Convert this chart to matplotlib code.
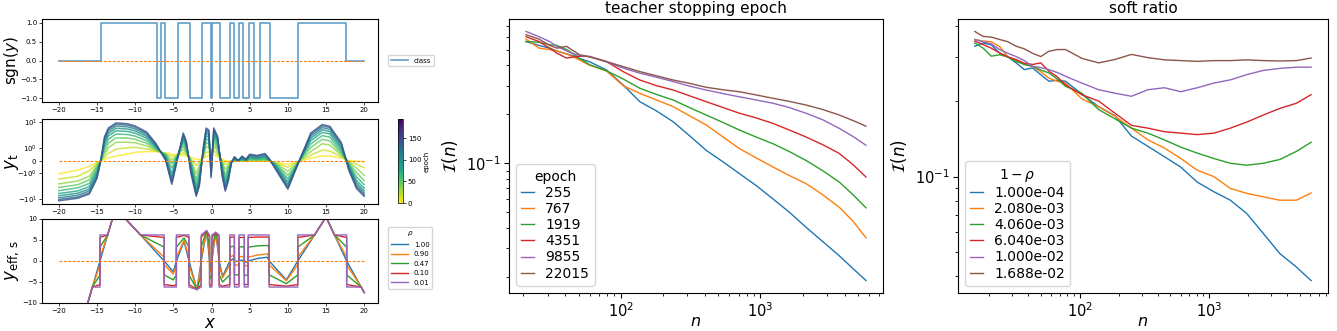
import numpy as np
import matplotlib
matplotlib.use('Agg')
import matplotlib.pyplot as plt
from matplotlib import colors, cm

# ---- top left: class sign of the teacher ----
sgn_edges = [-20, -14.5, -7.16, -6.64, -6.07, -4.45, -2.84, -1.27, -0.13, 0.1, 1.09,
             2.4, 2.97, 3.62, 4.15, 4.85, 5.59, 6.29, 7.64, 11.27, 17.6, 20]
sgn_vals = [0, 1, -1, 1, -1, 1, -1, 1, -1, 1, -1, 1, -1, 1, -1, 1, -1, 1, -1, 1, 0, 0]
zero_x = [-20, 20]
zero_y = [0, 0]

# ---- middle left: teacher output y_t over training epochs ----
yt_x = [-20, -17.5, -16, -15, -14.5, -14, -13.5, -12.5, -11, -10, -8.5, -7.3, -6.0, -5.2,
        -4.6, -3.7, -3.3, -2.7, -2.0, -1.6, -1.1, -0.7, -0.35, -0.05, 0.3, 0.8, 1.4, 1.8,
        2.2, 2.6, 3.0, 3.5, 4.0, 4.5, 5.0, 6.0, 7.0, 7.5, 8.5, 10.0, 11.5, 13.0, 14.5,
        15.5, 17.0, 18.0, 19.0, 20.0]
yt_epochs = [0, 16, 32, 48, 64, 80, 96, 112, 128, 144]
yt_curves = [
    [-1.05, -0.75, -0.45, -0.15, 0.0, 0.1, 0.2, 0.35, 0.5, 0.65, 0.7, 0.7, 0.6, 0.5, 0.45, 0.4,
     0.35, 0.25, 0.1, 0.1, 0.2, 0.3, 0.4, 0.5, 0.45, 0.3, 0.1, 0.0, -0.05, -0.05, -0.05, -0.05,
     -0.05, -0.05, -0.05, -0.05, -0.05, -0.05, -0.15, -0.3, -0.05, 0.2, 0.35, 0.35, 0.2, 0.0,
     -0.05, -0.1],
    [-1.7, -1.3, -0.8, -0.24, 0, 0.26, 0.55, 0.9, 1.0, 1.04, 0.91, 0.75, 0.56, 0.31, 0.4, 0.6,
     0.44, 0.17, -0.39, -0.1, 0.24, 0.64, 0.68, 0.38, 0.78, 0.45, 0.02, -0.3, -0.17, -0.06,
     -0.03, -0.05, -0.03, -0.04, -0.02, -0.02, -0.01, -0.03, -0.19, -0.53, -0.05, 0.42, 0.82,
     0.75, 0.28, -0.05, -0.29, -0.57],
    [-2.6, -2.0, -1.3, -0.35, 0, 0.48, 1.01, 1.63, 1.66, 1.57, 1.19, 0.81, 0.52, 0.05, 0.34,
     0.88, 0.55, 0.07, -1.03, -0.36, 0.3, 1.1, 1.04, 0.22, 1.23, 0.65, -0.1, -0.7, -0.32, -0.07,
     0.0, -0.04, 0.01, -0.03, 0.03, 0.01, 0.03, -0.02, -0.24, -0.85, -0.04, 0.7, 1.45, 1.28,
     0.4, -0.11, -0.6, -1.21],
    [-3.6, -2.8, -1.8, -0.48, 0, 0.72, 1.53, 2.45, 2.41, 2.16, 1.51, 0.88, 0.46, -0.24, 0.28,
     1.18, 0.68, -0.04, -1.76, -0.66, 0.36, 1.61, 1.46, 0.04, 1.73, 0.88, -0.22, -1.15, -0.5,
     -0.08, 0.03, -0.04, 0.04, -0.02, 0.08, 0.05, 0.09, 0.01, -0.3, -1.2, -0.04, 1.03, 2.16,
     1.88, 0.52, -0.18, -0.96, -1.92],
    [-4.8, -3.7, -2.5, -0.64, 0, 1.02, 2.17, 3.46, 3.32, 2.88, 1.89, 0.97, 0.4, -0.59, 0.19,
     1.56, 0.84, -0.18, -2.65, -1.02, 0.44, 2.24, 1.96, -0.18, 2.34, 1.15, -0.38, -1.7, -0.71,
     -0.1, 0.07, -0.03, 0.09, 0.0, 0.14, 0.1, 0.15, 0.04, -0.37, -1.63, -0.03, 1.42, 3.02,
     2.61, 0.68, -0.27, -1.39, -2.79],
    [-6.2, -4.9, -3.3, -0.83, 0, 1.37, 2.93, 4.65, 4.4, 3.73, 2.35, 1.08, 0.32, -1.0, 0.1, 2.0,
     1.03, -0.34, -3.71, -1.45, 0.53, 2.98, 2.56, -0.44, 3.06, 1.48, -0.56, -2.35, -0.97, -0.12,
     0.11, -0.03, 0.14, 0.02, 0.21, 0.16, 0.23, 0.07, -0.46, -2.13, -0.03, 1.89, 4.04, 3.48,
     0.86, -0.38, -1.91, -3.81],
    [-7.6, -6.0, -4.1, -1.02, 0, 1.72, 3.68, 5.84, 5.48, 4.58, 2.8, 1.18, 0.24, -1.42, 0.0,
     2.44, 1.22, -0.5, -4.76, -1.88, 0.62, 3.72, 3.16, -0.7, 3.78, 1.8, -0.74, -3.0, -1.22,
     -0.14, 0.16, -0.02, 0.19, 0.04, 0.28, 0.22, 0.31, 0.1, -0.54, -2.64, -0.02, 2.36, 5.06,
     4.34, 1.04, -0.48, -2.42, -4.84],
    [-9.2, -7.2, -4.9, -1.22, 0, 2.1, 4.49, 7.12, 6.64, 5.5, 3.29, 1.29, 0.16, -1.87, -0.11,
     2.92, 1.42, -0.68, -5.89, -2.34, 0.72, 4.52, 3.8, -0.98, 4.56, 2.15, -0.94, -3.7, -1.49,
     -0.16, 0.21, -0.01, 0.25, 0.06, 0.36, 0.28, 0.39, 0.14, -0.63, -3.19, -0.01, 2.86, 6.16,
     5.27, 1.24, -0.59, -2.97, -5.95],
    [-10.7, -8.5, -5.8, -1.43, 0, 2.48, 5.3, 8.4, 7.8, 6.41, 3.78, 1.4, 0.07, -2.32, -0.21,
     3.39, 1.63, -0.85, -7.03, -2.8, 0.82, 5.32, 4.45, -1.26, 5.33, 2.5, -1.13, -4.4, -1.77,
     -0.18, 0.26, -0.01, 0.3, 0.08, 0.43, 0.35, 0.48, 0.17, -0.72, -3.73, -0.01, 3.37, 7.26,
     6.2, 1.43, -0.7, -3.53, -7.05],
    [-12.0, -9.5, -6.5, -1.6, 0.0, 2.8, 6.0, 9.5, 8.8, 7.2, 4.2, 1.5, 0.0, -2.7, -0.3, 3.8,
     1.8, -1.0, -8.0, -3.2, 0.9, 6.0, 5.0, -1.5, 6.0, 2.8, -1.3, -5.0, -2.0, -0.2, 0.3, 0.0,
     0.35, 0.1, 0.5, 0.4, 0.55, 0.2, -0.8, -4.2, 0.0, 3.8, 8.2, 7.0, 1.6, -0.8, -4.0, -8.0],
]

# ---- bottom left: effective soft targets ----
eff_x = [-17, -15.6, -14.6, -14.6, -13.6, -12.5, -11.5, -9.3, -6.2, -6.2, -5.0, -4.6, -4.6,
         -3.6, -2.95, -2.95, -1.9, -1.35, -1.35, -0.65, -0.25, -0.25, -0.1, 0.05, 0.05, 0.55,
         1.0, 1.0, 1.45, 2.4, 2.4, 2.8, 3.0, 3.0, 3.3, 3.6, 3.6, 3.9, 4.3, 4.3, 4.55, 4.8, 4.8,
         6.0, 7.3, 7.55, 7.55, 9.8, 11.3, 11.3, 13.5, 15.0, 16.1, 17.7, 17.7, 19.6, 20.0]
eff_rho = ['1.00', '0.90', '0.47', '0.10', '0.01']
eff_100 = [-15, -6.2, 0, 0, 6.2, 13, 10.5, 6.2, 0, 0, -2.6, 0, 0, 4.7, 0, 0, -6.8, 0, 0, 7.2,
           0, 0, -2.0, 0, 0, 6.8, 0, 0, -3.7, 0, 0, 0.5, 0, 0, -0.1, 0, 0, 0.2, 0, 0, -0.3, 0,
           0, 0.6, 0.9, 0, 0, -4.5, 0, 0, 6.2, 10.5, 6.2, 0, 0, -6.2, -7.5]
eff_090 = [-15, -6.2, -0.9, 0.9, 6.2, 13, 10.5, 6.2, 0.9, -0.9, -3.1, -0.9, 0.9, 4.9, 0.9,
           -0.9, -6.8, -0.9, 0.9, 7.2, 0.9, -0.9, -2.6, -0.9, 0.9, 6.8, 0.9, -0.9, -4.0, -0.9,
           0.9, 1.3, 0.9, -0.9, -1.0, -0.9, 0.9, 1.1, 0.9, -0.9, -1.2, -0.9, 0.9, 1.4, 1.7, 0.9,
           -0.9, -4.7, -0.9, 0.9, 6.2, 10.5, 6.2, 0.9, -0.9, -6.2, -7.5]
eff_047 = [-15, -6.2, -3.3, 3.3, 6.2, 13, 10.5, 6.2, 3.3, -3.3, -4.5, -3.3, 3.3, 5.5, 3.3,
           -3.3, -6.8, -3.3, 3.3, 7.2, 3.3, -3.3, -4.2, -3.3, 3.3, 6.8, 3.3, -3.3, -5.0, -3.3,
           3.3, 3.5, 3.3, -3.3, -3.3, -3.3, 3.3, 3.4, 3.3, -3.3, -3.4, -3.3, 3.3, 3.6, 3.7, 3.3,
           -3.3, -5.4, -3.3, 3.3, 6.2, 10.5, 6.2, 3.3, -3.3, -6.2, -7.5]
eff_010 = [-15, -6.2, -5.6, 5.6, 6.2, 13, 10.5, 6.2, 5.6, -5.6, -5.9, -5.6, 5.6, 6.1, 5.6,
           -5.6, -6.8, -5.6, 5.6, 7.2, 5.6, -5.6, -5.8, -5.6, 5.6, 6.8, 5.6, -5.6, -6.0, -5.6,
           5.6, 5.7, 5.6, -5.6, -5.6, -5.6, 5.6, 5.6, 5.6, -5.6, -5.6, -5.6, 5.6, 5.7, 5.7, 5.6,
           -5.6, -6.0, -5.6, 5.6, 6.2, 10.5, 6.2, 5.6, -5.6, -6.2, -7.5]
eff_001 = [-15, -6.2, -6.2, 6.2, 6.2, 13, 10.5, 6.2, 6.2, -6.2, -6.2, -6.2, 6.2, 6.2, 6.2,
           -6.2, -6.8, -6.2, 6.2, 7.2, 6.2, -6.2, -6.2, -6.2, 6.2, 6.8, 6.2, -6.2, -6.2, -6.2,
           6.2, 6.2, 6.2, -6.2, -6.2, -6.2, 6.2, 6.2, 6.2, -6.2, -6.2, -6.2, 6.2, 6.2, 6.2, 6.2,
           -6.2, -6.2, -6.2, 6.2, 6.2, 10.5, 6.2, 6.2, -6.2, -6.2, -7.5]

# ---- centre: teacher stopping epoch ----
n_epoch = [21, 26, 31, 35, 41, 46, 51, 60, 79, 104, 137, 180, 237, 310, 409, 540, 708, 930,
           1225, 1610, 2120, 2790, 3660, 4600, 5690]
epoch_labels = ['255', '767', '1919', '4351', '9855', '22015']
I_255 = [0.56, 0.53, 0.51, 0.49, 0.47, 0.457, 0.44, 0.42, 0.375, 0.303, 0.239, 0.21, 0.18,
         0.148, 0.12, 0.102, 0.0863, 0.073, 0.0605, 0.05, 0.0404, 0.033, 0.027, 0.0225, 0.019]
I_767 = [0.58, 0.51, 0.50, 0.49, 0.47, 0.45, 0.43, 0.40, 0.37, 0.30, 0.269, 0.245, 0.223,
         0.196, 0.172, 0.145, 0.123, 0.108, 0.095, 0.084, 0.075, 0.064, 0.0537, 0.044, 0.0348]
I_1919 = [0.56, 0.555, 0.535, 0.53, 0.5, 0.47, 0.44, 0.403, 0.37, 0.33, 0.289, 0.265, 0.245,
          0.22, 0.198, 0.178, 0.16, 0.145, 0.132, 0.118, 0.104, 0.09, 0.0767, 0.064, 0.0532]
I_4351 = [0.6, 0.56, 0.51, 0.475, 0.443, 0.45, 0.455, 0.453, 0.422, 0.366, 0.325, 0.3, 0.282,
          0.26, 0.239, 0.22, 0.203, 0.19, 0.176, 0.16, 0.145, 0.13, 0.115, 0.098, 0.0823]
I_9855 = [0.646, 0.6, 0.56, 0.523, 0.49, 0.47, 0.46, 0.453, 0.42, 0.385, 0.358, 0.338, 0.318,
          0.298, 0.282, 0.268, 0.256, 0.245, 0.234, 0.22, 0.203, 0.185, 0.164, 0.146, 0.129]
I_22015 = [0.617, 0.58, 0.53, 0.51, 0.523, 0.49, 0.464, 0.45, 0.422, 0.393, 0.366, 0.345,
           0.325, 0.31, 0.293, 0.283, 0.275, 0.263, 0.251, 0.24, 0.228, 0.214, 0.198, 0.183,
           0.169]

# ---- right: soft ratio ----
n_soft = [15.5, 18, 20.8, 24.1, 27.9, 32.3, 37.4, 43.3, 50.1, 57.9, 67.1, 77.8, 104, 140, 187,
          251, 336, 451, 604, 809, 1086, 1455, 1950, 2615, 3506, 4700, 6110]
soft_labels = ['1.000e-04', '2.080e-03', '4.060e-03', '6.040e-03', '1.000e-02', '1.688e-02']
S_1 = [0.331, 0.341, 0.335, 0.311, 0.3, 0.284, 0.267, 0.271, 0.255, 0.24, 0.242, 0.24, 0.213,
       0.19, 0.175, 0.145, 0.132, 0.12, 0.109, 0.095, 0.087, 0.0805, 0.0712, 0.0593, 0.0493,
       0.0436, 0.0385]
S_2 = [0.352, 0.347, 0.345, 0.33, 0.3, 0.29, 0.28, 0.275, 0.262, 0.247, 0.24, 0.236, 0.204,
       0.19, 0.174, 0.156, 0.14, 0.13, 0.118, 0.106, 0.1, 0.0897, 0.0857, 0.083, 0.0805,
       0.0805, 0.086]
S_3 = [0.341, 0.325, 0.302, 0.306, 0.3, 0.288, 0.28, 0.275, 0.266, 0.259, 0.245, 0.229, 0.215,
       0.185, 0.17, 0.156, 0.149, 0.14, 0.131, 0.124, 0.118, 0.113, 0.111, 0.113, 0.117, 0.126,
       0.137]
S_4 = [0.347, 0.336, 0.325, 0.311, 0.3, 0.293, 0.283, 0.28, 0.284, 0.263, 0.25, 0.232, 0.212,
       0.2, 0.179, 0.16, 0.156, 0.151, 0.149, 0.147, 0.149, 0.156, 0.165, 0.176, 0.187, 0.196,
       0.212]
S_5 = [0.352, 0.345, 0.338, 0.321, 0.31, 0.301, 0.29, 0.275, 0.272, 0.267, 0.26, 0.251, 0.236,
       0.222, 0.215, 0.209, 0.222, 0.226, 0.218, 0.226, 0.236, 0.243, 0.255, 0.265, 0.27,
       0.273, 0.273]
S_6 = [0.379, 0.362, 0.36, 0.352, 0.345, 0.331, 0.323, 0.31, 0.301, 0.316, 0.321, 0.321, 0.296,
       0.284, 0.293, 0.307, 0.298, 0.292, 0.29, 0.288, 0.29, 0.29, 0.292, 0.29, 0.289, 0.29,
       0.297]

small = 5
zero_style = dict(color='#ff7f0e', ls=(0, (2.5, 1.5)), lw=0.8)

fig = plt.figure(figsize=(13.37, 3.31), dpi=100)
ax1 = fig.add_axes([0.0314, 0.6918, 0.2513, 0.2508])
ax2 = fig.add_axes([0.0314, 0.3837, 0.2513, 0.2568])
ax3 = fig.add_axes([0.0314, 0.0846, 0.2513, 0.2538])
cax = fig.add_axes([0.2977, 0.3867, 0.0037, 0.2538])
axm = fig.add_axes([0.3807, 0.1148, 0.2797, 0.8278])
axr = fig.add_axes([0.7165, 0.1148, 0.2767, 0.8278])

for ax in (ax1, ax2, ax3):
    ax.tick_params(labelsize=small, length=2, width=0.5, pad=1.5)
    for s in ax.spines.values():
        s.set_linewidth(0.8)
    ax.set_xlim(-22.2, 21.8)
    ax.set_xticks([-20, -15, -10, -5, 0, 5, 10, 15, 20])

# top left
ax1.step(sgn_edges, sgn_vals, where='post', color='C0', alpha=0.7, lw=1.2, label='class')
ax1.plot(zero_x, zero_y, **zero_style)
ax1.set_ylim(-1.1, 1.1)
ax1.set_yticks([-1.0, -0.5, 0.0, 0.5, 1.0])
ax1.set_ylabel(r'$\mathrm{sgn}(y)$', fontsize=11)
ax1.legend(loc='center left', bbox_to_anchor=(1.02, 0.5), fontsize=small, handlelength=2.5)

# middle left
norm = colors.Normalize(vmin=0, vmax=195)
cmap = plt.get_cmap('viridis_r')
for ep, row in zip(yt_epochs, yt_curves):
    ax2.plot(yt_x, row, color=cmap(norm(ep)), alpha=0.8, lw=1.1)
ax2.plot(zero_x, zero_y, **zero_style)
ax2.set_yscale('symlog', linthresh=1, linscale=0.45)
ax2.set_ylim(-16, 13.5)
ax2.set_ylabel(r'$y_{\mathrm{t}}$', fontsize=12)
sm = cm.ScalarMappable(norm=norm, cmap=cmap)
cb = fig.colorbar(sm, cax=cax)
cb.set_ticks([0, 50, 100, 150])
cb.ax.tick_params(labelsize=small, length=2, width=0.5, pad=1.5)
cb.outline.set_linewidth(0.5)
cb.set_label('epoch', fontsize=small, labelpad=2)

# bottom left
for vals, lab in zip([eff_100, eff_090, eff_047, eff_010, eff_001], eff_rho):
    ax3.plot(eff_x, vals, lw=1.0, label=lab)
ax3.plot(zero_x, zero_y, **zero_style)
ax3.set_ylim(-10, 10)
ax3.set_yticks([-10, -5, 0, 5, 10])
ax3.set_ylabel(r'$y_{\mathrm{eff,\,s}}$', fontsize=12)
ax3.set_xlabel(r'$x$', fontsize=12, labelpad=0)
ax3.legend(title=r'$\rho$', loc='upper left', bbox_to_anchor=(1.02, 0.95), fontsize=small,
           title_fontsize=small, handlelength=2.5)

# place the left y labels like the reference
for ax in (ax1, ax2, ax3):
    ax.yaxis.set_label_coords(-0.062, 0.5)

# centre panel
for vals, lab in zip([I_255, I_767, I_1919, I_4351, I_9855, I_22015], epoch_labels):
    axm.plot(n_epoch, vals, lw=1.0, label=lab)
axm.set_xscale('log')
axm.set_yscale('log')
axm.set_title('teacher stopping epoch', fontsize=11, pad=4)
axm.set_xlabel(r'$n$', fontsize=11.5, labelpad=-4)
axm.set_ylabel(r'$\mathcal{I}(n)$', fontsize=12)
axm.tick_params(labelsize=10.5, pad=2.5)
axm.legend(title='epoch', loc='lower left', fontsize=10, title_fontsize=10,
           handlelength=0.9, labelspacing=0.15)

# right panel
for vals, lab in zip([S_1, S_2, S_3, S_4, S_5, S_6], soft_labels):
    axr.plot(n_soft, vals, lw=1.0, label=lab)
axr.set_xscale('log')
axr.set_yscale('log')
axr.set_title('soft ratio', fontsize=11, pad=4)
axr.set_xlabel(r'$n$', fontsize=11.5, labelpad=-4)
axr.set_ylabel(r'$\mathcal{I}(n)$', fontsize=12)
axr.tick_params(labelsize=10.5, pad=2.5)
axr.legend(title=r'$1-\rho$', loc='lower left', fontsize=10, title_fontsize=10,
           handlelength=0.9, labelspacing=0.15)

fig.savefig('out.png', dpi=100)
